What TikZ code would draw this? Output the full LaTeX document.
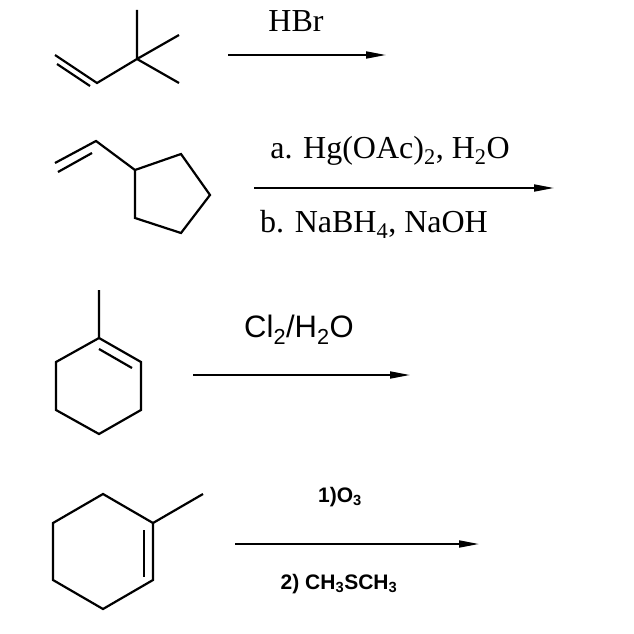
\documentclass[tikz,border=0pt]{standalone}
\usepackage{fontspec}
\setmainfont{Liberation Serif}
\setsansfont{Liberation Sans}
\usetikzlibrary{arrows.meta}
\begin{document}
\begin{tikzpicture}[x=1pt,y=-1pt,bond/.style={line width=2.2pt,line join=miter},
rxn/.style={line width=1.8pt,-{Triangle[length=20pt,width=7pt]}},
ser/.style={font=\fontsize{32}{36}\selectfont},
sans/.style={font=\sffamily\fontsize{31}{36}\selectfont},
bsans/.style={font=\sffamily\bfseries\fontsize{21}{26}\selectfont}]
\useasboundingbox (0,0) rectangle (634,634);
% molecule 1
\draw[bond] (55,55) -- (97,83) -- (137,59) -- (137,10) (137,59) -- (179,35) (137,59) -- (179,83);
\draw[bond] (57,64) -- (90,86);
% molecule 2
\draw[bond] (55,163) -- (96,141) -- (135,170);
\draw[bond] (135,170) -- (181,154) -- (210,195) -- (181,233) -- (135,218) -- cycle;
\draw[bond] (58,172) -- (92,153);
% molecule 3
\draw[bond] (99,290) -- (99,338) -- (141,362) -- (141,410) -- (99,434) -- (56,410) -- (56,362) -- (99,338);
\draw[bond] (99,349) -- (132,368);
% molecule 4
\draw[bond] (103,494) -- (153,523) -- (153,580) -- (103,609) -- (53,580) -- (53,523) -- cycle;
\draw[bond] (153,523) -- (203,494);
\draw[bond] (144,530) -- (144,577);
% arrows
\coordinate (a1) at (228,55); \coordinate (b1) at (386,55);
\coordinate (a2) at (254,188); \coordinate (b2) at (554,188);
\coordinate (a3) at (193,375); \coordinate (b3) at (410,375);
\coordinate (a4) at (235,544); \coordinate (b4) at (479,544);
\draw[rxn] (a1) -- (b1);
\draw[rxn] (a2) -- (b2);
\draw[rxn] (a3) -- (b3);
\draw[rxn] (a4) -- (b4);
\node[ser] (t1) at (296,21) {HBr};
\node[ser] (t2) at (390,151) {a. Hg(OAc)\textsubscript{2}, H\textsubscript{2}O};
\node[ser] (t3) at (374,224) {b. NaBH\textsubscript{4}, NaOH};
\node[sans] (t4) at (299,330) {Cl\textsubscript{2}/H\textsubscript{2}O};
\node[bsans] (t5) at (340,497) {1)O\textsubscript{3}};
\node[bsans] (t6) at (339,584) {2) CH\textsubscript{3}SCH\textsubscript{3}};
\end{tikzpicture}
\end{document}
